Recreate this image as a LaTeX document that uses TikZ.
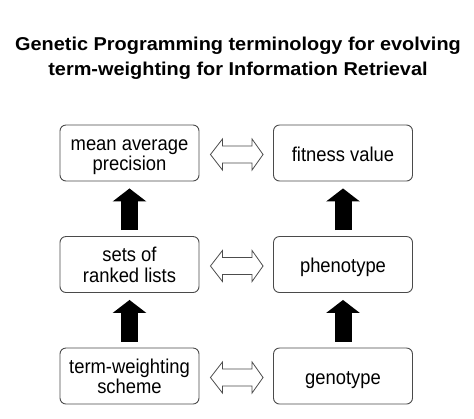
\documentclass[tikz,border=0pt]{standalone}
\usepackage{fontspec}
\setmainfont{Liberation Sans}
\newfontfamily\boxfont[FakeStretch=0.92]{Liberation Sans}
\newfontfamily\titlefont[FakeStretch=1.07]{Liberation Sans}
\usetikzlibrary{calc,arrows.meta}
\definecolor{boxline}{HTML}{4A4A4A}
\begin{document}
\begin{tikzpicture}[x=1bp,y=-1bp,
  box/.style={draw=boxline,line width=0.9bp,rounded corners=6bp,minimum width=139bp,minimum height=56bp,align=center,inner sep=0bp,font=\boxfont\fontsize{20bp}{20.7bp}\selectfont},
  onebox/.style={box,text height=16bp,text depth=0bp},
  twobox/.style={box,text height=35.4bp,text depth=0bp},
  titletext/.style={anchor=base,font=\titlefont\fontsize{18.6bp}{24bp}\selectfont\bfseries},
  uparrow/.style={draw=black,line width=17bp,-{Triangle[length=13bp,width=33bp]},shorten <=6bp,shorten >=7bp},
  hollow/.style={draw=black!70,line width=0.8bp,fill=white,line join=miter}]
\useasboundingbox (0,0) rectangle (474,418);
\fill[white] (0,0) rectangle (474,418);
\node[titletext] (t1) at (238,50) {Genetic Programming terminology for evolving};
\node[titletext] (t2) at (238,75) {term-weighting for Information Retrieval};

\node[twobox] (map) at (129.5,153) {mean average\\precision};
\node[onebox] (fit) at (343,153) {fitness value};
\node[twobox] (sets) at (129.5,264.5) {sets of\\ranked lists};
\node[onebox] (phen) at (343,264.5) {phenotype};
\node[twobox] (tws) at (129.5,376) {term-weighting\\scheme};
\node[onebox] (gen) at (343,376) {genotype};

\draw[uparrow] (sets.north) -- (map.south);
\draw[uparrow] (phen.north) -- (fit.south);
\draw[uparrow] (tws.north) -- (sets.south);
\draw[uparrow] (gen.north) -- (phen.south);

\foreach \a/\b in {map/fit,sets/phen,tws/gen}{
  \coordinate (L) at ($(\a.east)+(11,1.5)$);
  \coordinate (R) at ($(\b.west)+(-10,1.5)$);
  \draw[hollow] (L) -- ($(L)+(12,-15.5)$) -- ($(L)+(12,-8.5)$) -- ($(R)+(-11,-8.5)$) -- ($(R)+(-11,-15.5)$) -- (R)
    -- ($(R)+(-11,15.5)$) -- ($(R)+(-11,8.5)$) -- ($(L)+(12,8.5)$) -- ($(L)+(12,15.5)$) -- cycle;
}
\end{tikzpicture}
\end{document}
